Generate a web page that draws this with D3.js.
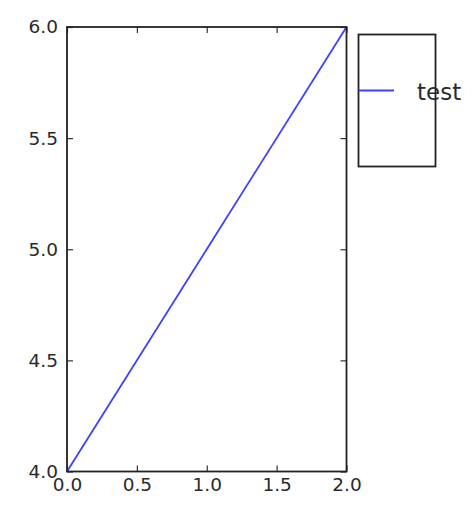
<!DOCTYPE html>
<html>
<head>
<meta charset="utf-8">
<script src="https://cdn.jsdelivr.net/npm/d3@7"></script>
<style>
  body { margin: 0; background: #fff; }
  text { font-family: "DejaVu Sans", sans-serif; fill: #2a2a2a; }
</style>
</head>
<body>
<svg id="chart" width="472" height="518"></svg>
<script>
// data
const xs = [0, 1, 2];
const ys = [4, 5, 6];
const seriesName = "test";
const xTicks = [0, 0.5, 1, 1.5, 2];
const yTicks = [4, 4.5, 5, 5.5, 6];

const svg = d3.select("#chart");

const plotLeft = 67, plotRight = 346.5, plotTop = 27, plotBottom = 471.5;

const x = d3.scaleLinear().domain([0, 2]).range([plotLeft, plotRight]);
const y = d3.scaleLinear().domain([4, 6]).range([plotBottom, plotTop]);

// ticks pointing inward on all four sides
const tickLen = 6;
svg.append("g")
  .attr("transform", "translate(0," + plotBottom + ")")
  .call(d3.axisBottom(x).tickValues(xTicks).tickSizeInner(-tickLen).tickSizeOuter(0).tickPadding(6).tickFormat(d3.format(".1f")))
  .call(g => g.select(".domain").remove());
svg.append("g")
  .attr("transform", "translate(0," + plotTop + ")")
  .call(d3.axisTop(x).tickValues(xTicks).tickSizeInner(-tickLen).tickSizeOuter(0).tickFormat(""))
  .call(g => g.select(".domain").remove());
svg.append("g")
  .attr("transform", "translate(" + plotLeft + ",0)")
  .call(d3.axisLeft(y).tickValues(yTicks).tickSizeInner(-tickLen).tickSizeOuter(0).tickPadding(9).tickFormat(d3.format(".1f")))
  .call(g => g.select(".domain").remove());
svg.append("g")
  .attr("transform", "translate(" + plotRight + ",0)")
  .call(d3.axisRight(y).tickValues(yTicks).tickSizeInner(-tickLen).tickSizeOuter(0).tickFormat(""))
  .call(g => g.select(".domain").remove());

svg.selectAll(".tick line").attr("stroke", "#333").attr("stroke-width", 1.2);
svg.selectAll(".tick text").style("font-size", "18.5px").attr("fill", "#2a2a2a");

// the line
const line = d3.line().x((d, i) => x(xs[i])).y(d => y(d));
svg.append("path")
  .datum(ys)
  .attr("fill", "none")
  .attr("stroke", "#3f3fff")
  .attr("stroke-width", 1.8)
  .attr("d", line);

// frame
svg.append("rect")
  .attr("x", plotLeft).attr("y", plotTop)
  .attr("width", plotRight - plotLeft).attr("height", plotBottom - plotTop)
  .attr("fill", "none").attr("stroke", "#222").attr("stroke-width", 1.8);

// legend (text spills over the box like the original)
const leg = svg.append("g");
leg.append("rect")
  .attr("x", 358.5).attr("y", 34.5)
  .attr("width", 77).attr("height", 132)
  .attr("fill", "none").attr("stroke", "#222").attr("stroke-width", 1.8);
leg.append("line")
  .attr("x1", 358.5).attr("x2", 394)
  .attr("y1", 90.5).attr("y2", 90.5)
  .attr("stroke", "#3f3fff").attr("stroke-width", 1.8);
leg.append("text")
  .attr("x", 417).attr("y", 100)
  .style("font-size", "23px")
  .text(seriesName);
</script>
</body>
</html>
